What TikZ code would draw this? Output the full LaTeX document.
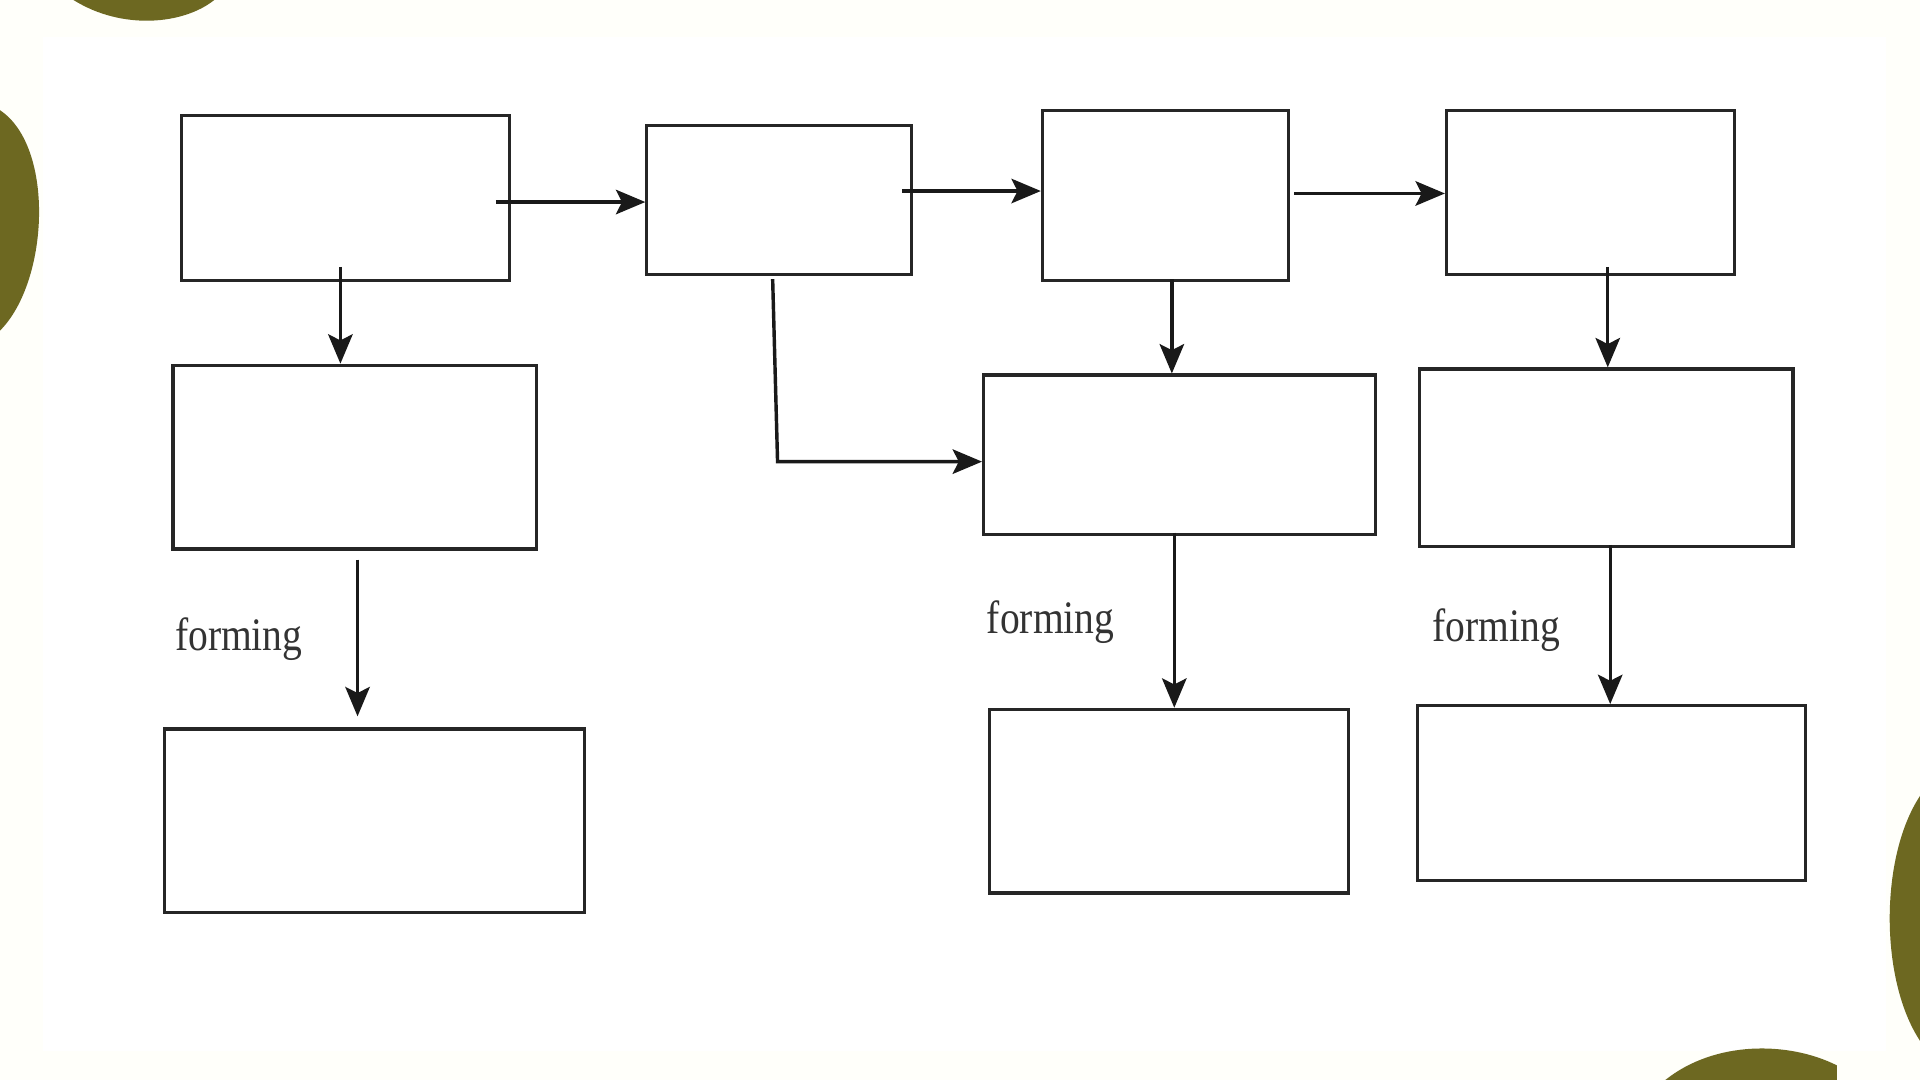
\documentclass[tikz,border=0pt]{standalone}
\usepackage{fontspec}
\setmainfont{Liberation Serif}
\usetikzlibrary{arrows.meta}
\begin{document}
\begin{tikzpicture}[x=1pt,y=-1pt,
  box/.style={draw=black!85,line width=2.6pt,fill=white,anchor=north west,inner sep=0pt},
  conn/.style={line width=2.8pt,black!90,-{Stealth[length=24pt,width=20pt,inset=5pt]}},
  lbl/.style={font=\fontsize{38}{40}\selectfont,text=black!80,xscale=0.85}]
\useasboundingbox (0,0) rectangle (1568,882);
\fill[black!4!white,yellow!2!white] (0,0) rectangle (1568,882);
\fill[white] (35,30) rectangle (1540,858);
% leaves
\fill[olive!70!black] (0,90) .. controls (45,120) and (40,230) .. (0,270) -- cycle;
\fill[olive!70!black] (60,0) .. controls (100,25) and (150,20) .. (175,0) -- cycle;
\fill[olive!70!black] (1568,650) .. controls (1535,700) and (1535,800) .. (1568,850) -- cycle;
\fill[olive!70!black] (1360,882) .. controls (1400,850) and (1460,850) .. (1500,870) -- (1500,882) -- cycle;
\newcommand{\bx}[5]{\node[box,minimum width=#4-#2,minimum height=#5-#3] (#1) at (#2,#3) {};}
\bx{A}{147}{93}{415}{228}
\bx{B}{527}{101}{743}{223}
\bx{C}{850}{89}{1051}{228}
\bx{D}{1180}{89}{1415}{223}
\bx{E}{140}{297}{437}{447}
\bx{F}{802}{305}{1122}{435}
\bx{G}{1158}{300}{1463}{445}
\bx{H}{133}{594}{476}{744}
\bx{I}{807}{578}{1100}{728}
\bx{J}{1156}{575}{1473}{718}
\draw[conn] (405,165) -- (B.west |- 0,165);
\draw[conn] (737,156) -- (C.west |- 0,156);
\draw[conn] (1057,158) -- (D.west |- 0,158);
\draw[conn] (278,218) -- (E.north -| 278,0);
\draw[conn] (631,228) -- (635,377) -- (F.west |- 0,377);
\draw[conn] (957,228) -- (F.north -| 957,0);
\draw[conn] (1313,218) -- (G.north -| 1313,0);
\draw[conn] (292,457) -- (292,585);
\draw[conn] (959,435) -- (I.north -| 959,0);
\draw[conn] (1315,445) -- (J.north -| 1315,0);
\node[lbl] (l1) at (195,522) {forming};
\node[lbl] (l2) at (858,508) {forming};
\node[lbl] (l3) at (1222,515) {forming};
\end{tikzpicture}
\end{document}
